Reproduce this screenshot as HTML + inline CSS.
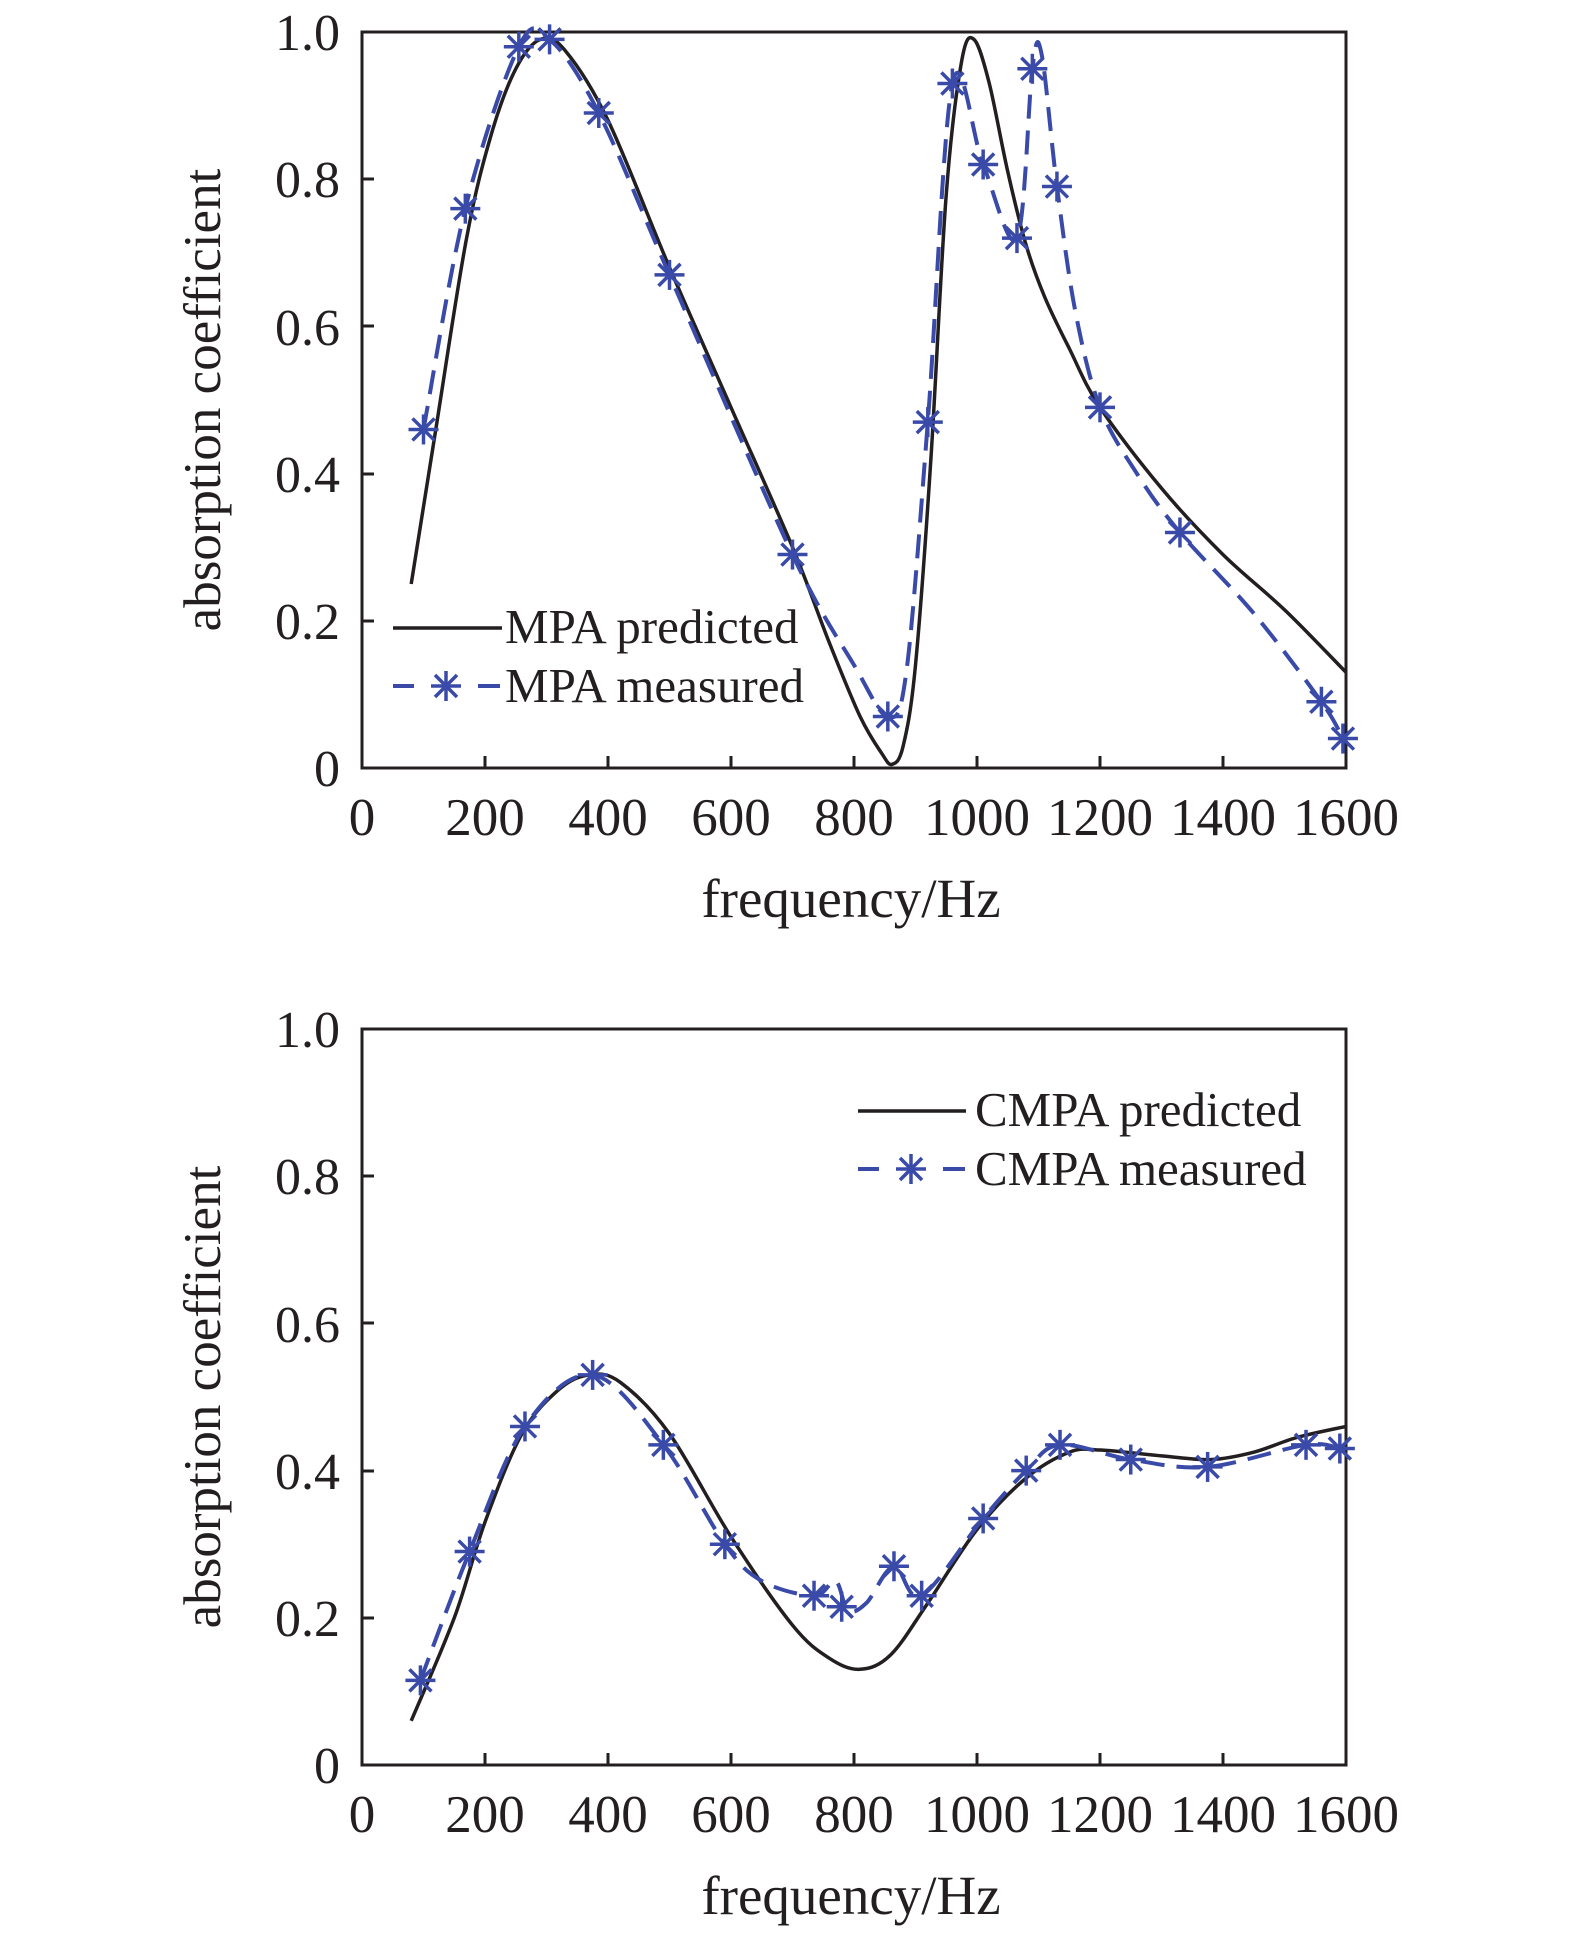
<!DOCTYPE html>
<html><head><meta charset="utf-8"><style>
html,body{margin:0;padding:0;background:#fff;}
svg{display:block;}
text{font-family:"Liberation Serif",serif;fill:#231f20;}
</style></head><body>
<svg id="s" width="1575" height="1935" viewBox="0 0 1575 1935" xmlns="http://www.w3.org/2000/svg">
<defs>
<g id="ast" stroke="#3a4aa8" stroke-width="3.5" fill="none">
<line x1="0" y1="-15" x2="0" y2="15"/><line x1="-15" y1="0" x2="15" y2="0"/>
<line x1="-11" y1="-11" x2="11" y2="11"/><line x1="-11" y1="11" x2="11" y2="-11"/>
</g>
<g id="ticks" stroke="#231f20" stroke-width="3">
<line x1="485" y1="768" x2="485" y2="756"/><line x1="608" y1="768" x2="608" y2="756"/><line x1="731" y1="768" x2="731" y2="756"/><line x1="854" y1="768" x2="854" y2="756"/><line x1="977" y1="768" x2="977" y2="756"/><line x1="1100" y1="768" x2="1100" y2="756"/><line x1="1223" y1="768" x2="1223" y2="756"/>
<line x1="362" y1="621" x2="374" y2="621"/><line x1="362" y1="474" x2="374" y2="474"/><line x1="362" y1="326" x2="374" y2="326"/><line x1="362" y1="179" x2="374" y2="179"/>
</g>
</defs>
<g id="p1">
<rect x="362" y="32" width="984" height="736" fill="none" stroke="#231f20" stroke-width="3"/>
<use href="#ticks"/>
<g font-size="52" text-anchor="end">
<text x="340" y="786">0</text><text x="340" y="639">0.2</text><text x="340" y="492">0.4</text>
<text x="340" y="345">0.6</text><text x="340" y="197">0.8</text><text x="340" y="50">1.0</text>
</g>
<g font-size="53" text-anchor="middle">
<text x="362" y="835">0</text><text x="485" y="835">200</text><text x="608" y="835">400</text><text x="731" y="835">600</text><text x="854" y="835">800</text><text x="977" y="835">1000</text><text x="1100" y="835">1200</text><text x="1223" y="835">1400</text><text x="1346" y="835">1600</text>
<text x="851" y="917" font-size="55">frequency/Hz</text>
<text transform="translate(220,400) rotate(-90)">absorption coefficient</text>
</g>
<g font-size="49">
<line x1="393" y1="628" x2="502" y2="628" stroke="#231f20" stroke-width="3.5"/>
<text x="505" y="643">MPA predicted</text>
<line x1="393" y1="686" x2="414" y2="686" stroke="#3a4aa8" stroke-width="4"/>
<line x1="478" y1="686" x2="500" y2="686" stroke="#3a4aa8" stroke-width="4"/>
<use href="#ast" x="446" y="686"/>
<text x="505" y="702">MPA measured</text>
</g>
</g>
<g transform="translate(0,997)">
<rect x="362" y="32" width="984" height="736" fill="none" stroke="#231f20" stroke-width="3"/>
<use href="#ticks"/>
<g font-size="52" text-anchor="end">
<text x="340" y="786">0</text><text x="340" y="639">0.2</text><text x="340" y="492">0.4</text>
<text x="340" y="345">0.6</text><text x="340" y="197">0.8</text><text x="340" y="50">1.0</text>
</g>
<g font-size="53" text-anchor="middle">
<text x="362" y="835">0</text><text x="485" y="835">200</text><text x="608" y="835">400</text><text x="731" y="835">600</text><text x="854" y="835">800</text><text x="977" y="835">1000</text><text x="1100" y="835">1200</text><text x="1223" y="835">1400</text><text x="1346" y="835">1600</text>
<text x="851" y="917" font-size="55">frequency/Hz</text>
<text transform="translate(220,400) rotate(-90)">absorption coefficient</text>
</g>
<g font-size="49">
<line x1="858" y1="114" x2="966" y2="114" stroke="#231f20" stroke-width="3.5"/>
<text x="975" y="129">CMPA predicted</text>
<line x1="858" y1="172" x2="879" y2="172" stroke="#3a4aa8" stroke-width="4"/>
<line x1="943" y1="172" x2="965" y2="172" stroke="#3a4aa8" stroke-width="4"/>
<use href="#ast" x="911" y="172"/>
<text x="975" y="188">CMPA measured</text>
</g>
</g>
<g id="curves"></g>
</svg>
<script>
var NS="http://www.w3.org/2000/svg";
function X(f){return 362+f*0.615;}
function path(pts,off){
 var P=pts.map(function(p){return [X(p[0]),768-p[1]*736+off];});
 var d="M"+P[0][0].toFixed(1)+","+P[0][1].toFixed(1);
 for(var i=0;i<P.length-1;i++){
  var p0=P[Math.max(i-1,0)],p1=P[i],p2=P[i+1],p3=P[Math.min(i+2,P.length-1)];
  var c1=[p1[0]+(p2[0]-p0[0])/6,p1[1]+(p2[1]-p0[1])/6];
  var c2=[p2[0]-(p3[0]-p1[0])/6,p2[1]-(p3[1]-p1[1])/6];
  d+=" C"+c1[0].toFixed(1)+","+c1[1].toFixed(1)+" "+c2[0].toFixed(1)+","+c2[1].toFixed(1)+" "+p2[0].toFixed(1)+","+p2[1].toFixed(1);
 }
 return d;
}
var g=document.getElementById("curves");
function add(pts,off,dash,marks){
 var p=document.createElementNS(NS,"path");
 p.setAttribute("d",path(pts,off));p.setAttribute("fill","none");
 if(dash){p.setAttribute("stroke","#3a4aa8");p.setAttribute("stroke-width","4");p.setAttribute("stroke-dasharray","24 12");}
 else{p.setAttribute("stroke","#231f20");p.setAttribute("stroke-width","3.5");}
 g.appendChild(p);
 if(marks){marks.forEach(function(m){var u=document.createElementNS(NS,"use");u.setAttribute("href","#ast");u.setAttribute("x",X(m[0]));u.setAttribute("y",768-m[1]*736+off);g.appendChild(u);});}
}
add([[80,.25],[120,.46],[170,.72],[210,.86],[250,.95],[290,.99],[330,.975],[400,.88],[500,.68],[600,.49],[700,.3],[760,.17],[810,.07],[845,.02],[862,.005],[880,.03],[900,.14],[925,.42],[950,.78],[975,.96],[995,.99],[1020,.93],[1050,.81],[1080,.71],[1110,.64],[1150,.57],[1200,.49],[1300,.38],[1400,.29],[1500,.215],[1600,.13]],0,false);
var m1=[[100,.46],[168,.76],[255,.98],[305,.99],[385,.89],[500,.67],[700,.29],[855,.07],[920,.47],[960,.93],[1010,.82],[1065,.72],[1090,.95],[1130,.79],[1200,.49],[1330,.32],[1560,.09],[1595,.04]];
add([[100,.46],[168,.76],[255,.98],[305,.99],[385,.89],[500,.67],[700,.29],[800,.14],[855,.07],[885,.13],[920,.47],[960,.93],[1010,.82],[1065,.72],[1090,.95],[1105,.97],[1130,.79],[1160,.62],[1200,.49],[1260,.4],[1330,.32],[1450,.21],[1560,.09],[1595,.04]],0,true,m1);
add([[80,.06],[150,.2],[200,.33],[260,.45],[320,.51],[370,.53],[420,.52],[500,.45],[600,.31],[700,.19],[760,.145],[810,.13],[860,.15],[920,.22],[1000,.32],[1080,.39],[1150,.425],[1200,.428],[1300,.42],[1380,.415],[1450,.425],[1520,.445],[1600,.46]],997,false);
var m2=[[95,.115],[175,.29],[265,.46],[375,.53],[490,.435],[590,.3],[735,.23],[780,.215],[865,.27],[910,.23],[1010,.335],[1080,.4],[1135,.435],[1250,.415],[1375,.405],[1535,.435],[1590,.43]];
add([[95,.115],[175,.29],[265,.46],[375,.53],[490,.435],[590,.3],[650,.25],[735,.23],[770,.25],[790,.21],[820,.22],[865,.27],[910,.23],[1010,.335],[1080,.4],[1135,.435],[1250,.415],[1375,.405],[1535,.435],[1590,.43]],997,true,m2);
</script>
</body></html>
